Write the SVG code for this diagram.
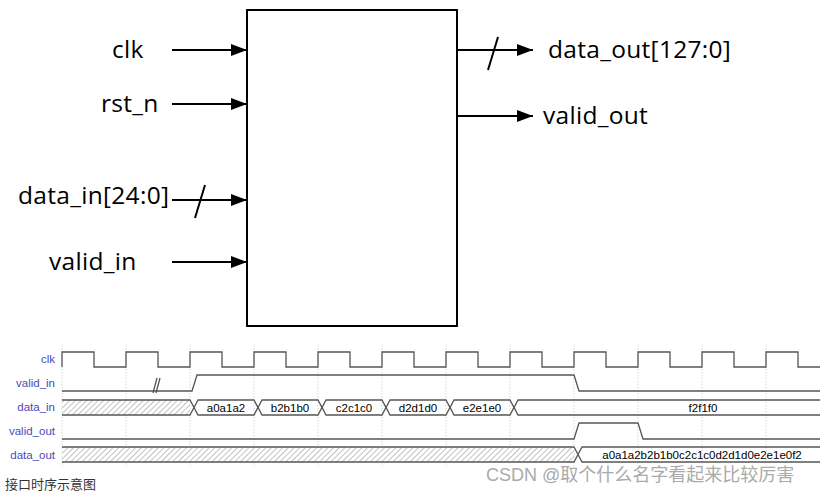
<svg xmlns="http://www.w3.org/2000/svg" width="832" height="496" viewBox="0 0 832 496">
<defs>
<marker id="ah" viewBox="0 0 16 12" refX="16" refY="6" markerWidth="16" markerHeight="12" markerUnits="userSpaceOnUse" orient="auto"><path d="M0,0 L16,6 L0,12 z" fill="#000"/></marker>
<pattern id="hatch" width="4" height="4" patternUnits="userSpaceOnUse" patternTransform="rotate(45)"><rect width="4" height="4" fill="#fff"/><line x1="0" y1="0" x2="0" y2="4" stroke="#999" stroke-width="1.2"/></pattern>
</defs>
<style>
.big{font-family:"Open Sans","DejaVu Sans",sans-serif;font-size:24.5px;letter-spacing:0.3px;fill:#000}
.w{stroke:#000;stroke-width:2;fill:none}
.sig{font-family:"Liberation Sans",Arial,sans-serif;font-size:11.5px;fill:#4a4ab8;text-anchor:end}
.val{font-family:"Liberation Sans",Arial,sans-serif;font-size:11.5px;fill:#000;text-anchor:middle}
.wave{stroke:#555;stroke-width:1.3;fill:none}
.grid{stroke:#ccc;stroke-width:0.8;stroke-dasharray:1.5 1.5}
</style>
<rect width="832" height="496" fill="#fff"/>
<g id="block"><rect x="247" y="10" width="210" height="316" fill="#fff" stroke="#000" stroke-width="2"/></g>
<g id="labels">
<text class="big" x="112" y="58">clk</text>
<text class="big" x="101" y="112">rst_n</text>
<text class="big" x="18" y="204">data_in[24:0]</text>
<text class="big" x="49" y="270">valid_in</text>
<text class="big" x="548" y="58">data_out[127:0]</text>
<text class="big" x="543" y="124">valid_out</text>
</g>
<g id="connectors">
<line class="w" x1="172" y1="50" x2="247" y2="50" marker-end="url(#ah)"/>
<line class="w" x1="172" y1="104" x2="247" y2="104" marker-end="url(#ah)"/>
<line class="w" x1="172" y1="200" x2="247" y2="200" marker-end="url(#ah)"/>
<line class="w" x1="195" y1="218" x2="205" y2="185"/>
<line class="w" x1="172" y1="262" x2="247" y2="262" marker-end="url(#ah)"/>
<line class="w" x1="457" y1="50" x2="533" y2="50" marker-end="url(#ah)"/>
<line class="w" x1="488" y1="70" x2="498" y2="37"/>
<line class="w" x1="457" y1="116" x2="533" y2="116" marker-end="url(#ah)"/>
</g>
<g id="timing">
<g>
<line class="grid" x1="62" y1="345" x2="62" y2="466"/><line class="grid" x1="126" y1="345" x2="126" y2="466"/><line class="grid" x1="190" y1="345" x2="190" y2="466"/><line class="grid" x1="254" y1="345" x2="254" y2="466"/><line class="grid" x1="318" y1="345" x2="318" y2="466"/><line class="grid" x1="382" y1="345" x2="382" y2="466"/><line class="grid" x1="446" y1="345" x2="446" y2="466"/><line class="grid" x1="510" y1="345" x2="510" y2="466"/><line class="grid" x1="574" y1="345" x2="574" y2="466"/><line class="grid" x1="638" y1="345" x2="638" y2="466"/><line class="grid" x1="702" y1="345" x2="702" y2="466"/><line class="grid" x1="766" y1="345" x2="766" y2="466"/>
</g>
<text class="sig" x="55" y="363">clk</text>
<text class="sig" x="55" y="387">valid_in</text>
<text class="sig" x="55" y="411">data_in</text>
<text class="sig" x="55" y="435">valid_out</text>
<text class="sig" x="55" y="459">data_out</text>
<path class="wave" d="M62,367 V352 H94 V367 H126 V352 H158 V367 H190 V352 H222 V367 H254 V352 H286 V367 H318 V352 H350 V367 H382 V352 H414 V367 H446 V352 H478 V367 H510 V352 H542 V367 H574 V352 H606 V367 H638 V352 H670 V367 H702 V352 H734 V367 H766 V352 H798 V367 H820"/>
<path class="wave" d="M62,391 H192 L197,375 H574 L579,391 H820"/>
<line class="wave" x1="153" y1="393" x2="157" y2="378"/><line class="wave" x1="156" y1="393" x2="160" y2="378"/>
<rect x="62" y="400" width="128" height="15" fill="url(#hatch)"/>
<path class="wave" d="M62,400 H190 L194,407.5 L190,415 H62"/>
<path class="wave" d="M194,407.5 L198,400 H254 L258,407.5 L262,400 H318 L322,407.5 L326,400 H382 L386,407.5 L390,400 H446 L450,407.5 L454,400 H510 L514,407.5 L518,400 H820 M194,407.5 L198,415 H254 L258,407.5 L262,415 H318 L322,407.5 L326,415 H382 L386,407.5 L390,415 H446 L450,407.5 L454,415 H510 L514,407.5 L518,415 H820"/>
<text class="val" x="226" y="411.5">a0a1a2</text>
<text class="val" x="290" y="411.5">b2b1b0</text>
<text class="val" x="354" y="411.5">c2c1c0</text>
<text class="val" x="418" y="411.5">d2d1d0</text>
<text class="val" x="482" y="411.5">e2e1e0</text>
<text class="val" x="703" y="411.5">f2f1f0</text>
<path class="wave" d="M62,439 H574 L579,423 H638 L643,439 H820"/>
<rect x="62" y="447" width="512" height="15" fill="url(#hatch)"/>
<path class="wave" d="M62,447 H574 L578,454.5 L574,462 H62 M578,454.5 L582,447 H820 M578,454.5 L582,462 H820"/>
<text class="val" x="702" y="458.5">a0a1a2b2b1b0c2c1c0d2d1d0e2e1e0f2</text>
</g>
<text x="5" y="489" font-family="'Noto Sans CJK SC',sans-serif" font-size="13" fill="#333">接口时序示意图</text>
<text x="486" y="481" font-family="'Liberation Sans','Noto Sans CJK SC',sans-serif" font-size="18" fill="#aaa">CSDN @取个什么名字看起来比较厉害</text>
</svg>
